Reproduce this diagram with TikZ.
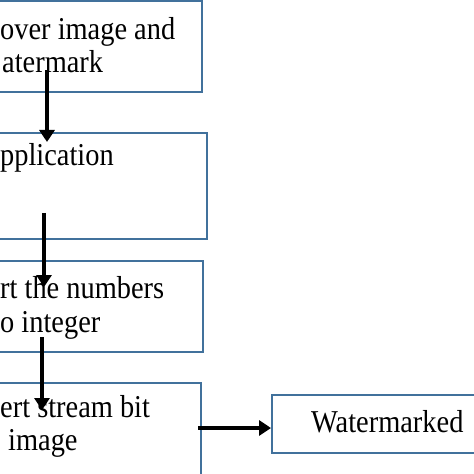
\documentclass[tikz,border=0pt]{standalone}
\usepackage{fontspec}
\setmainfont{Liberation Serif}
\usetikzlibrary{arrows.meta}
\definecolor{boxblue}{HTML}{41719C}
\newcommand\vtext[1]{\scalebox{1}[1.12]{#1}}
\tikzset{
  box/.style={draw=boxblue, line width=1.6bp, fill=white},
  lbl/.style={anchor=base west, inner sep=0pt, font=\fontsize{28.5}{33}\selectfont},
  flow/.style={line width=3.5bp, -{Triangle[length=12bp,width=15bp]}},
}
\begin{document}
\begin{tikzpicture}[x=1bp,y=-1bp]
\useasboundingbox (0,0) rectangle (474,474);
% boxes
\node[box, minimum width=300bp, minimum height=90.5bp, anchor=north east] (b1) at (203,0.5) {};
\node[box, minimum width=300bp, minimum height=106bp, anchor=north east] (b2) at (208,132) {};
\node[box, minimum width=300bp, minimum height=91bp, anchor=north east] (b3) at (204,260) {};
\node[box, minimum width=300bp, minimum height=140bp, anchor=north east] (b4) at (202,382) {};
\node[box, minimum width=260bp, minimum height=58bp, anchor=north west] (b5) at (271,394) {};
% texts
\node[lbl] (t1a) at (0,40) {\vtext{over image and}};
\node[lbl] (t1b) at (2,73) {\vtext{atermark}};
\node[lbl] (t2) at (0,166) {\vtext{pplication}};
\node[lbl] (t3a) at (0,298) {\vtext{rt the numbers}};
\node[lbl] (t3b) at (0,332) {\vtext{o integer}};
\node[lbl] (t4a) at (0,417) {\vtext{ert stream bit}};
\node[lbl] (t4b) at (8,450) {\vtext{image}};
\node[lbl] (t5) at (311,432) {\vtext{Watermarked}};
% connector ends
\coordinate (s1) at (47,70);
\coordinate (e1) at (47,142);
\coordinate (s2) at (44,213);
\coordinate (e2) at (44,287);
\coordinate (s3) at (42,337);
\coordinate (e3) at (42,410);
\coordinate (s4) at (198,428);
\coordinate (e4) at (b5.west |- s4);
\draw[flow] (s1) -- (e1);
\draw[flow] (s2) -- (e2);
\draw[flow] (s3) -- (e3);
\draw[flow] (s4) -- (e4);
\end{tikzpicture}
\end{document}
